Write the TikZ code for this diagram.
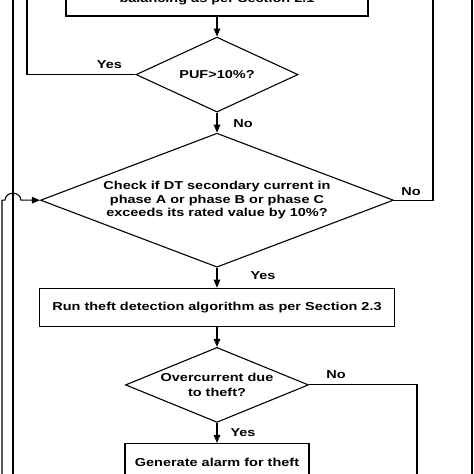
\documentclass[tikz,border=0pt]{standalone}
\usepackage{fontspec}
\setmainfont{Liberation Sans}[FakeStretch=1.26]
\usepackage{tikz}
\usetikzlibrary{shapes,arrows,positioning,calc,arrows.meta}
\tikzstyle{block} = [rectangle, draw, line width=1.1pt, font=\fontsize{11.5}{13.3}\selectfont\bfseries, minimum height=38pt, inner sep=2pt]
\tikzstyle{decision} = [diamond, draw, line width=1.1pt, align=center, font=\fontsize{11.5}{13.3}\selectfont\bfseries, aspect=2.4, inner sep=0pt]
\tikzstyle{arrow} = [-{Triangle[length=8pt,width=6.5pt]}, line width=1.1pt]
\tikzstyle{line} = [line width=1.1pt]
\tikzstyle{lbl} = [font=\fontsize{11.5}{13}\selectfont\bfseries, inner sep=0pt]

\begin{document}
\begin{tikzpicture}[x=1pt, y=1pt]
    \useasboundingbox (0,0) rectangle (474,474);
    \clip (0,0) rectangle (474,474);

    % Balancing step (cut at the top)
    \node[block, minimum width=302pt, minimum height=32pt] (bal) at (217,474) {balancing as per Section 2.1};

    % PUF check
    \node[decision, below=20pt of bal, minimum width=162pt, minimum height=75pt] (puf) {PUF>10\%?};

    % Overcurrent check
    \node[decision, below=20pt of puf, minimum width=353pt, minimum height=134pt] (dtcur) {Check if DT secondary current in\\phase A or phase B or phase C\\exceeds its rated value by 10\%?};

    % Theft detection
    \node[block, below=20pt of dtcur, minimum width=355pt] (run) {Run theft detection algorithm as per Section 2.3};
    \node[decision, below=20pt of run, minimum width=183pt, minimum height=75pt] (theft) {Overcurrent due\\[1.5pt]to theft?};
    \node[block, below=20pt of theft, minimum width=184pt] (alarm) {Generate alarm for theft};

    % Loose ends of the loops
    \coordinate (yesup) at (27,484);
    \coordinate (noup) at (433,484);
    \coordinate (nodown) at (417,-10);
    \coordinate (backin) at (2,-10);
    \coordinate (leftT) at (13,484);
    \coordinate (leftB) at (13,-10);
    \coordinate (rightT) at (472,484);
    \coordinate (rightB) at (472,-10);

    % Arrows
    \draw[arrow] (bal) -- (puf);
    \draw[arrow] (puf) -- (dtcur);
    \draw[arrow] (dtcur) -- (run);
    \draw[arrow] (run) -- (theft);
    \draw[arrow] (theft) -- (alarm);
    \draw[line] (puf.west) -| (yesup);
    \draw[line] (dtcur.east) -| (noup);
    \draw[line] (theft.east) -| (nodown);
    \draw[line] (leftT) -- (leftB);
    \draw[line] (rightT) -- (rightB);
    \draw[arrow] (backin) |- ([xshift=-35pt]dtcur.west) arc[start angle=180, end angle=0, x radius=8pt, y radius=7pt] -- (dtcur.west);

    % Labels
    \node[lbl] (yes1) at ([shift={(-26pt,10pt)}]puf.west) {Yes};
    \node[lbl] (no1) at ([shift={(26pt,-11pt)}]puf.south) {No};
    \node[lbl] (no2) at ([shift={(17pt,9pt)}]dtcur.east) {No};
    \node[lbl] (yes2) at ([shift={(46pt,-8pt)}]dtcur.south) {Yes};
    \node[lbl] (no3) at ([shift={(27pt,10pt)}]theft.east) {No};
    \node[lbl] (yes3) at ([shift={(26pt,-10pt)}]theft.south) {Yes};
\end{tikzpicture}
\end{document}
